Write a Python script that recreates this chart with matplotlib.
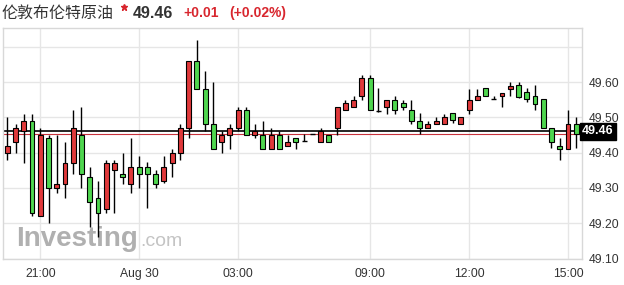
import matplotlib
matplotlib.use("Agg")
import matplotlib.pyplot as plt
from matplotlib.lines import Line2D

plt.rcParams["font.family"] = ["Liberation Sans", "Noto Sans CJK SC", "DejaVu Sans"]

# 15-minute candles, Brent crude (red = up, green = down)
opens = [49.40, 49.43, 49.46, 49.49, 49.22, 49.44, 49.30, 49.31, 49.37, 49.45,
         49.33, 49.27, 49.24, 49.35, 49.34, 49.31, 49.36, 49.36, 49.34, 49.32,
         49.37, 49.40, 49.47, 49.66, 49.58, 49.48, 49.43, 49.45, 49.47, 49.52,
         49.45, 49.45, 49.41, 49.45, 49.42, 49.44, 49.433, 49.453, 49.43, 49.45,
         49.47, 49.52, 49.53, 49.56, 49.61, 49.519, 49.53, 49.55, 49.54, 49.52,
         49.49, 49.47, 49.48, 49.48, 49.511, 49.48, 49.52, 49.55, 49.582, 49.551,
         49.56, 49.58, 49.591, 49.571, 49.56, 49.551, 49.471, 49.42, 49.41, 49.48]
closes = [49.42, 49.47, 49.49, 49.23, 49.45, 49.30, 49.31, 49.37, 49.47, 49.34,
          49.26, 49.23, 49.37, 49.37, 49.33, 49.36, 49.34, 49.34, 49.31, 49.36,
          49.40, 49.47, 49.66, 49.58, 49.48, 49.41, 49.45, 49.47, 49.52, 49.45,
          49.46, 49.41, 49.45, 49.41, 49.43, 49.43, 49.433, 49.453, 49.46, 49.43,
          49.53, 49.54, 49.55, 49.61, 49.52, 49.519, 49.55, 49.52, 49.53, 49.49,
          49.47, 49.48, 49.49, 49.50, 49.491, 49.50, 49.55, 49.56, 49.560, 49.551,
          49.57, 49.59, 49.558, 49.551, 49.539, 49.471, 49.431, 49.41, 49.48, 49.452]
highs = [49.50, 49.48, 49.51, 49.51, 49.47, 49.45, 49.45, 49.43, 49.52, 49.53,
         49.36, 49.32, 49.38, 49.38, 49.40, 49.44, 49.39, 49.372, 49.35, 49.39,
         49.41, 49.48, 49.66, 49.72, 49.63, 49.60, 49.46, 49.48, 49.53, 49.53,
         49.48, 49.49, 49.471, 49.46, 49.45, 49.44, 49.452, 49.453, 49.47, 49.45,
         49.53, 49.55, 49.56, 49.62, 49.62, 49.582, 49.55, 49.56, 49.55, 49.55,
         49.511, 49.49, 49.50, 49.51, 49.511, 49.50, 49.58, 49.58, 49.582, 49.560,
         49.57, 49.60, 49.601, 49.582, 49.591, 49.551, 49.471, 49.44, 49.52, 49.502]
lows = [49.38, 49.40, 49.37, 49.22, 49.22, 49.20, 49.285, 49.27, 49.34, 49.30,
        49.19, 49.16, 49.23, 49.23, 49.31, 49.285, 49.30, 49.242, 49.30, 49.315,
        49.33, 49.38, 49.44, 49.58, 49.46, 49.41, 49.40, 49.41, 49.46, 49.45,
        49.44, 49.41, 49.41, 49.41, 49.42, 49.41, 49.433, 49.453, 49.43, 49.43,
        49.45, 49.52, 49.53, 49.55, 49.52, 49.516, 49.51, 49.51, 49.52, 49.48,
        49.452, 49.47, 49.48, 49.48, 49.483, 49.48, 49.51, 49.55, 49.560, 49.551,
        49.53, 49.56, 49.554, 49.542, 49.521, 49.471, 49.412, 49.38, 49.41, 49.412]

tick_idx = [4, 16, 28, 44, 56, 68]
tick_labels = ["21:00", "Aug 30", "03:00", "09:00", "12:00", "15:00"]
price_ticks = [49.10, 49.20, 49.30, 49.40, 49.50, 49.60]
last_price = 49.46
prev_close = 49.452

UP = "#e0393b"
DOWN = "#4fd64f"
GRID = "#e6e6e6"

fig = plt.figure(figsize=(6.24, 2.85), dpi=100)
ax = fig.add_axes([3 / 624, 26.5 / 285, 579 / 624, 230.5 / 285])

# grid
for t in tick_idx:
    ax.axvline(t, color=GRID, lw=1, zorder=0)
for p in price_ticks + [49.70]:
    ax.axhline(p, color=GRID, lw=1, zorder=0)

# watermark
ax.text(13 / 579, 12 / 230.5, "Investing", transform=ax.transAxes, fontsize=20,
        fontweight="bold", color="#b0b0b0", ha="left", va="baseline", zorder=1)
ax.text(137 / 579, 12 / 230.5, ".com", transform=ax.transAxes, fontsize=14,
        color="#c4c4c4", ha="left", va="baseline", zorder=1)

# candles
w = 0.6
for i, (o, c, h, l) in enumerate(zip(opens, closes, highs, lows)):
    ax.vlines(i, l, h, color="black", lw=1, zorder=3)
    if abs(c - o) < 0.002:
        ax.hlines(o, i - w / 2, i + w / 2, color="black", lw=1, zorder=4)
        continue
    col = UP if c > o else DOWN
    ax.bar(i, abs(c - o), bottom=min(o, c), width=w, color=col,
           edgecolor="black", linewidth=0.8, zorder=4)

# last price and previous close lines
ax.axhline(last_price, color="black", lw=1.2, zorder=2)
ax.axhline(prev_close, color="#c8323c", lw=0.8, zorder=2)

ax.set_xlim(-0.52, 69.7)
ax.set_ylim(49.10, 49.753)

ax.set_xticks(tick_idx)
ax.set_xticklabels(tick_labels)
ax.yaxis.tick_right()
ax.set_yticks(price_ticks)
ax.set_yticklabels([f"{p:.2f}" for p in price_ticks])
ax.tick_params(axis="both", length=0, labelsize=8.7, labelcolor="#333333")
ax.tick_params(axis="x", pad=7)
ax.tick_params(axis="y", pad=5)
for s in ax.spines.values():
    s.set_color("#d8d8d8")
    s.set_linewidth(1)

ax.text(1.0, last_price, f"{last_price:.2f}", transform=ax.get_yaxis_transform(),
        ha="left", va="center", fontsize=9, fontweight="bold", color="white",
        bbox=dict(boxstyle="square,pad=0.2", facecolor="black", edgecolor="black"),
        zorder=6, clip_on=False)

# header
fig.text(2 / 624, 1 - 13 / 285, "伦敦布伦特原油", fontsize=11.5, color="#333333",
         ha="left", va="center", family=["Noto Sans CJK SC", "DejaVu Sans"])
fig.add_artist(Line2D([124 / 624], [1 - 7 / 285], marker="*", markersize=5,
                      color="#d8262e", transform=fig.transFigure))
fig.text(133 / 624, 1 - 13 / 285, "49.46", fontsize=11.5, fontweight="bold",
         color="#333333", ha="left", va="center")
fig.text(183 / 624, 1 - 13 / 285, "+0.01", fontsize=10, fontweight="bold",
         color="#d8262e", ha="left", va="center")
fig.text(229 / 624, 1 - 13 / 285, "(+0.02%)", fontsize=10, fontweight="bold",
         color="#d8262e", ha="left", va="center")

fig.savefig("out.png", dpi=100)
